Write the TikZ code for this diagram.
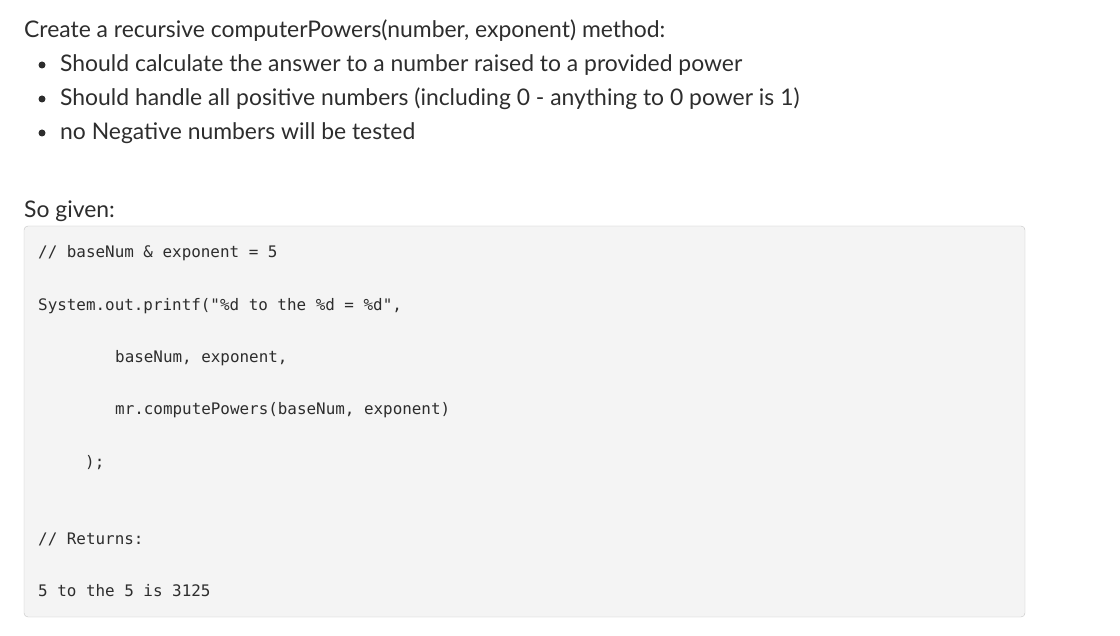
\documentclass[tikz,border=0pt]{standalone}
\usepackage{fontspec}
\setmainfont{Lato}
\newfontfamily\codefont{DejaVu Sans Mono}
\definecolor{txt}{HTML}{2D2D2D}
\definecolor{codebg}{HTML}{F4F4F4}
\definecolor{codeborder}{HTML}{C4C4C4}
\begin{document}
\begin{tikzpicture}[x=1pt,y=-1pt,
  prose/.style={anchor=west,inner sep=0pt,text=txt,font=\fontsize{22.9}{27}\selectfont},
  code/.style={anchor=west,inner sep=0pt,text=txt,font=\codefont\fontsize{15.9}{18}\selectfont},
  bul/.style={circle,fill=txt,inner sep=0pt,minimum size=7pt}]
\useasboundingbox (0,0) rectangle (1120,636);
\node[prose] (t0) at (24,31) {Create a recursive computerPowers(number, exponent) method:};
\node[bul] (b1) at (42,65) {}; \node[prose] (t1) at (60,65) {Should calculate the answer to a number raised to a provided power};
\node[bul] (b2) at (42,99) {}; \node[prose] (t2) at (60,99) {Should handle all positive numbers (including 0 - anything to 0 power is 1)};
\node[bul] (b3) at (42,133) {}; \node[prose] (t3) at (60,133) {no Negative numbers will be tested};
\node[prose] (t4) at (24,211) {So given:};
\draw[codeborder,fill=codebg,rounded corners=4pt] (24,226) rectangle (1025,617);
\node[code] (c1) at (38,253) {// baseNum \& exponent = 5};
\node[code] (c2) at (38,306) {System.out.printf("\%d to the \%d = \%d",};
\node[code] (c3) at (115,358) {baseNum, exponent,};
\node[code] (c4) at (115,410) {mr.computePowers(baseNum, exponent)};
\node[code] (c5) at (85,463) {);};
\node[code] (c6) at (38,539) {// Returns:};
\node[code] (c7) at (38,591) {5 to the 5 is 3125};
\end{tikzpicture}
\end{document}
